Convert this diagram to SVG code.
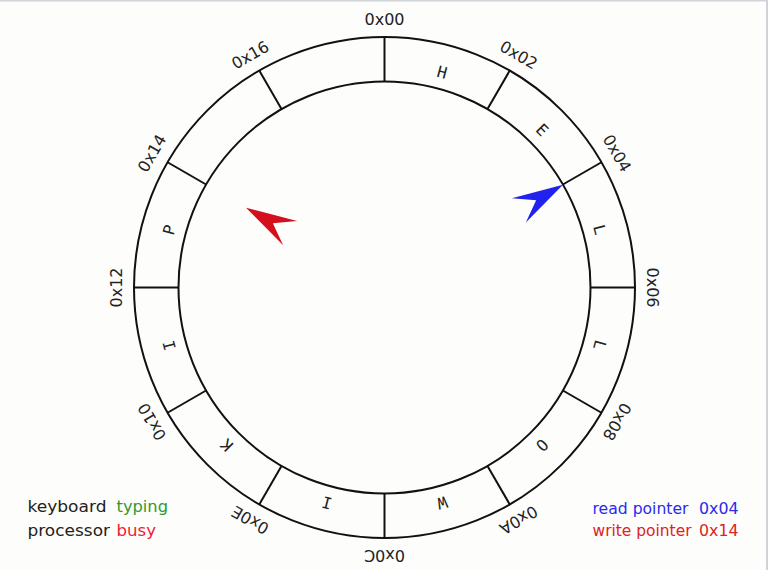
<svg xmlns="http://www.w3.org/2000/svg" width="768" height="570" viewBox="0 0 768 570">
<style>
.ring{fill:none;stroke:#111;stroke-width:2}
.div{stroke:#111;stroke-width:2}
.addr{font-family:"DejaVu Sans","Liberation Sans",sans-serif;font-size:16px;fill:#222;text-anchor:middle}
.cell{font-family:"DejaVu Sans Mono","Liberation Mono",monospace;font-size:16px;fill:#222;text-anchor:middle}
.leg{font-family:"DejaVu Sans","Liberation Sans",sans-serif;font-size:16.4px;fill:#222}
.legr{font-family:"DejaVu Sans","Liberation Sans",sans-serif;font-size:15.8px}
</style>
<defs>
<path id="arrow" d="M0,0 L14,51 L0,31 L-14,51 Z"/>
</defs>
<rect x="0" y="0" width="768" height="570" fill="#fdfdfb"/>
<line x1="0" y1="0.8" x2="768" y2="0.8" stroke="#d0d4d8" stroke-width="1.6"/>
<line x1="767" y1="0" x2="767" y2="570" stroke="#d0d4d8" stroke-width="2"/>

<g id="buffer">
<circle class="ring" cx="384.5" cy="287.5" r="250.5"/>
<circle class="ring" cx="384.5" cy="287.5" r="206"/>
</g>

<g id="connectors">
<line class="div" x1="384.5" y1="81.5" x2="384.5" y2="37" transform="rotate(0 384.5 287.5)"/>
<line class="div" x1="384.5" y1="81.5" x2="384.5" y2="37" transform="rotate(30 384.5 287.5)"/>
<line class="div" x1="384.5" y1="81.5" x2="384.5" y2="37" transform="rotate(60 384.5 287.5)"/>
<line class="div" x1="384.5" y1="81.5" x2="384.5" y2="37" transform="rotate(90 384.5 287.5)"/>
<line class="div" x1="384.5" y1="81.5" x2="384.5" y2="37" transform="rotate(120 384.5 287.5)"/>
<line class="div" x1="384.5" y1="81.5" x2="384.5" y2="37" transform="rotate(150 384.5 287.5)"/>
<line class="div" x1="384.5" y1="81.5" x2="384.5" y2="37" transform="rotate(180 384.5 287.5)"/>
<line class="div" x1="384.5" y1="81.5" x2="384.5" y2="37" transform="rotate(210 384.5 287.5)"/>
<line class="div" x1="384.5" y1="81.5" x2="384.5" y2="37" transform="rotate(240 384.5 287.5)"/>
<line class="div" x1="384.5" y1="81.5" x2="384.5" y2="37" transform="rotate(270 384.5 287.5)"/>
<line class="div" x1="384.5" y1="81.5" x2="384.5" y2="37" transform="rotate(300 384.5 287.5)"/>
<line class="div" x1="384.5" y1="81.5" x2="384.5" y2="37" transform="rotate(330 384.5 287.5)"/>
</g>

<g id="addresses">
<text class="addr" x="384.5" y="24.6" transform="rotate(0 384.5 287.5)">0x00</text>
<text class="addr" x="384.5" y="24.6" transform="rotate(30 384.5 287.5)">0x02</text>
<text class="addr" x="384.5" y="24.6" transform="rotate(60 384.5 287.5)">0x04</text>
<text class="addr" x="384.5" y="24.6" transform="rotate(90 384.5 287.5)">0x06</text>
<text class="addr" x="384.5" y="24.6" transform="rotate(120 384.5 287.5)">0x08</text>
<text class="addr" x="384.5" y="24.6" transform="rotate(150 384.5 287.5)">0x0A</text>
<text class="addr" x="384.5" y="24.6" transform="rotate(180 384.5 287.5)">0x0C</text>
<text class="addr" x="384.5" y="24.6" transform="rotate(210 384.5 287.5)">0x0E</text>
<text class="addr" x="384.5" y="24.6" transform="rotate(240 384.5 287.5)">0x10</text>
<text class="addr" x="384.5" y="24.6" transform="rotate(270 384.5 287.5)">0x12</text>
<text class="addr" x="384.5" y="24.6" transform="rotate(300 384.5 287.5)">0x14</text>
<text class="addr" x="384.5" y="24.6" transform="rotate(330 384.5 287.5)">0x16</text>
</g>

<g id="cells">
<text class="cell" x="384.5" y="70.3" transform="rotate(15 384.5 287.5)">H</text>
<text class="cell" x="384.5" y="70.3" transform="rotate(45 384.5 287.5)">E</text>
<text class="cell" x="384.5" y="70.3" transform="rotate(75 384.5 287.5)">L</text>
<text class="cell" x="384.5" y="70.3" transform="rotate(105 384.5 287.5)">L</text>
<text class="cell" x="384.5" y="70.3" transform="rotate(135 384.5 287.5)">O</text>
<text class="cell" x="384.5" y="70.3" transform="rotate(165 384.5 287.5)">W</text>
<text class="cell" x="384.5" y="70.3" transform="rotate(195 384.5 287.5)">I</text>
<text class="cell" x="384.5" y="70.3" transform="rotate(225 384.5 287.5)">K</text>
<text class="cell" x="384.5" y="70.3" transform="rotate(255 384.5 287.5)">I</text>
<text class="cell" x="384.5" y="70.3" transform="rotate(285 384.5 287.5)">P</text>
</g>

<g id="read-pointer">
<use href="#arrow" fill="#2222ee" transform="translate(563,184.8) rotate(60)"/>
</g>
<g id="write-pointer">
<use href="#arrow" fill="#d4101c" transform="translate(246,207.7) rotate(-60)"/>
</g>

<g id="legend-left">
<text class="leg" x="27.5" y="512" textLength="79" lengthAdjust="spacingAndGlyphs">keyboard</text>
<text class="leg" x="116.5" y="512" style="fill:#2e9a2e" textLength="51.5" lengthAdjust="spacingAndGlyphs">typing</text>
<text class="leg" x="27.5" y="535.5" textLength="82.5" lengthAdjust="spacingAndGlyphs">processor</text>
<text class="leg" x="116.5" y="535.5" style="fill:#ee2233" textLength="39.5" lengthAdjust="spacingAndGlyphs">busy</text>
</g>
<g id="legend-right">
<text class="legr" x="592.5" y="514" style="fill:#2a2aee" textLength="96" lengthAdjust="spacingAndGlyphs">read pointer</text>
<text class="legr" x="699" y="514" style="fill:#2a2aee">0x04</text>
<text class="legr" x="592.5" y="536" style="fill:#dd2222" textLength="99" lengthAdjust="spacingAndGlyphs">write pointer</text>
<text class="legr" x="699" y="536" style="fill:#dd2222">0x14</text>
</g>
</svg>
